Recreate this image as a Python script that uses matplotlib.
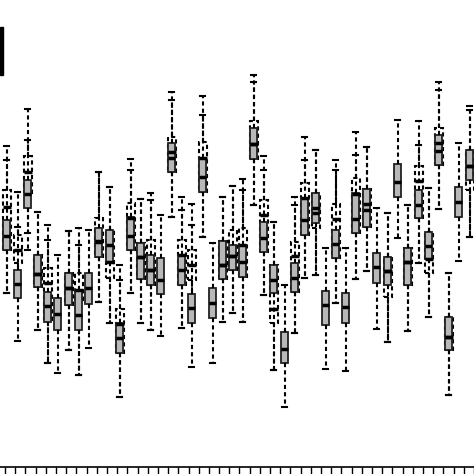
import matplotlib
matplotlib.use("Agg")
import matplotlib.pyplot as plt
from matplotlib.patches import Rectangle

# box centres (x) and white / grey box stats, read as pixel rows from top
xpos = [7, 18, 28, 38, 48, 58, 69, 79, 89, 99, 110, 120, 131, 141, 151, 161, 172, 182, 192,
        203, 213, 223, 233, 243, 254, 264, 274, 285, 295, 305, 316, 326, 336, 346, 356, 367,
        377, 388, 398, 408, 419, 429, 439, 449, 459, 470]
# white boxes: top whisker, q3, median, q1, bottom whisker (None = no white box)
w_top = [146, 192, 109, 212, 225, None, 231, 228, None, 172, 187, 265, 159, 199, 193, None, 92, 197, 204,
         96, None, 197, 186, 179, 75, 156, 222, None, 197, 137, 150, None, 160, None, 132, 147,
         None, 213, None, 205, 121, 188, 82, 273, None, 106]
w_q3 = [190, 235, 156, 255, 268, None, 273, 273, None, 218, 230, 309, 203, 243, 240, None, 137, 240, 250,
        142, None, 241, 230, 228, 121, 200, 265, None, 242, 183, 193, None, 204, None, 178, 189,
        None, 257, None, 248, 166, 232, 128, 317, None, 150]
w_med = [207, 250, 172, 274, 283, None, 288, 290, None, 241, 262, 324, 218, 257, 270, None, 152, 255, 265,
         158, None, 265, 256, 262, 144, 215, 309, None, 256, 198, 208, None, 219, None, 194, 204,
         None, 271, None, 262, 181, 259, 143, 337, None, 166]
w_q1 = [250, 263, 193, 287, 320, None, 305, 300, None, 257, 278, 353, 250, 279, 285, None, 172, 285, 280,
        192, None, 279, 270, 277, 159, 252, 323, None, 292, 235, 228, None, 258, None, 233, 227,
        None, 297, None, 285, 218, 273, 165, 350, None, 190]
w_bot = [293, 290, 233, 330, 363, None, 350, 375, None, 302, 323, 397, 293, 323, 330, None, 217, 328, 320,
         237, None, 322, 313, 322, 205, 295, 370, None, 333, 278, 275, None, 303, None, 279, 271,
         None, 342, None, 331, 263, 317, 209, 395, None, 237]
# grey boxes
g_top = [160, 227, 140, 212, 240, 255, 231, 245, 230, 172, 187, 280, 170, 199, 200, 215, 100, 210, 225,
         115, 243, 197, 186, 190, 82, 170, 222, 285, 205, 160, 150, 248, 170, 248, 155, 147,
         208, 213, 120, 205, 145, 188, 90, 273, 143, 110]
g_q3 = [220, 270, 180, 255, 292, 298, 273, 290, 273, 228, 230, 323, 217, 243, 255, 258, 143, 255, 294,
        158, 288, 241, 245, 245, 128, 222, 265, 332, 263, 198, 193, 291, 230, 293, 193, 189,
        253, 257, 164, 248, 190, 232, 135, 317, 187, 150]
g_med = [236, 284, 194, 274, 306, 314, 288, 315, 288, 242, 245, 338, 236, 257, 270, 280, 158, 270, 308,
         177, 303, 265, 256, 245, 144, 238, 280, 349, 278, 220, 213, 305, 244, 307, 219, 210,
         267, 271, 182, 262, 205, 246, 151, 337, 202, 166]
g_q1 = [250, 298, 208, 287, 322, 330, 305, 330, 304, 257, 262, 353, 250, 279, 285, 294, 172, 285, 323,
        192, 318, 279, 270, 277, 159, 252, 293, 363, 292, 235, 223, 325, 258, 323, 233, 227,
        283, 285, 197, 285, 218, 259, 165, 350, 217, 180]
g_bot = [293, 341, 250, 330, 363, 373, 350, 375, 348, 302, 323, 397, 293, 323, 330, 336, 217, 328, 367,
         237, 363, 322, 313, 322, 205, 295, 370, 407, 333, 278, 275, 369, 303, 371, 279, 271,
         329, 342, 238, 331, 263, 317, 209, 395, 261, 237]
tick_x = [5 + 10.2 * i for i in range(47)]

H = 474

def stats(top, q3, med, q1, bot):
    out, pos = [], []
    for i, x in enumerate(xpos):
        if top[i] is None:
            continue
        pos.append(x)
        out.append(dict(whishi=H - top[i], q3=H - q3[i], med=H - med[i],
                        q1=H - q1[i], whislo=H - bot[i], fliers=[]))
    return out, pos

fig = plt.figure(figsize=(4.74, 4.74), dpi=100)
ax = fig.add_axes([0, 7 / H, 1, (H - 7) / H])

ws, wp = stats(w_top, w_q3, w_med, w_q1, w_bot)
ax.bxp(ws, positions=wp, widths=8, patch_artist=True,
       boxprops=dict(facecolor='white', edgecolor='black', linewidth=1.5, linestyle=(0, (2, 1.5))),
       whiskerprops=dict(color='black', linewidth=1.5, linestyle=(0, (2, 1.5))),
       capprops=dict(color='black', linewidth=1.5), capwidths=5,
       medianprops=dict(color='black', linewidth=2.5))
gs, gp = stats(g_top, g_q3, g_med, g_q1, g_bot)
ax.bxp(gs, positions=gp, widths=7, patch_artist=True,
       boxprops=dict(facecolor='#b8b8b8', edgecolor='#222222', linewidth=1.3),
       whiskerprops=dict(color='black', linewidth=1.5, linestyle=(0, (2, 1.5))),
       capprops=dict(color='black', linewidth=1.5), capwidths=5,
       medianprops=dict(color='black', linewidth=2.5))

# legend fragment at top-left corner
ax.add_patch(Rectangle((0, H - 75), 3, 48, color='black', clip_on=False))

ax.set_xlim(0, 474)
ax.set_ylim(7, H)
ax.set_xticks(tick_x)
ax.set_xticklabels([])
ax.set_yticks([])
ax.tick_params(axis='x', direction='out', length=5, width=1)
for s in ['top', 'left', 'right']:
    ax.spines[s].set_visible(False)
ax.spines['bottom'].set_linewidth(1.2)
fig.savefig('out.png', dpi=100)
